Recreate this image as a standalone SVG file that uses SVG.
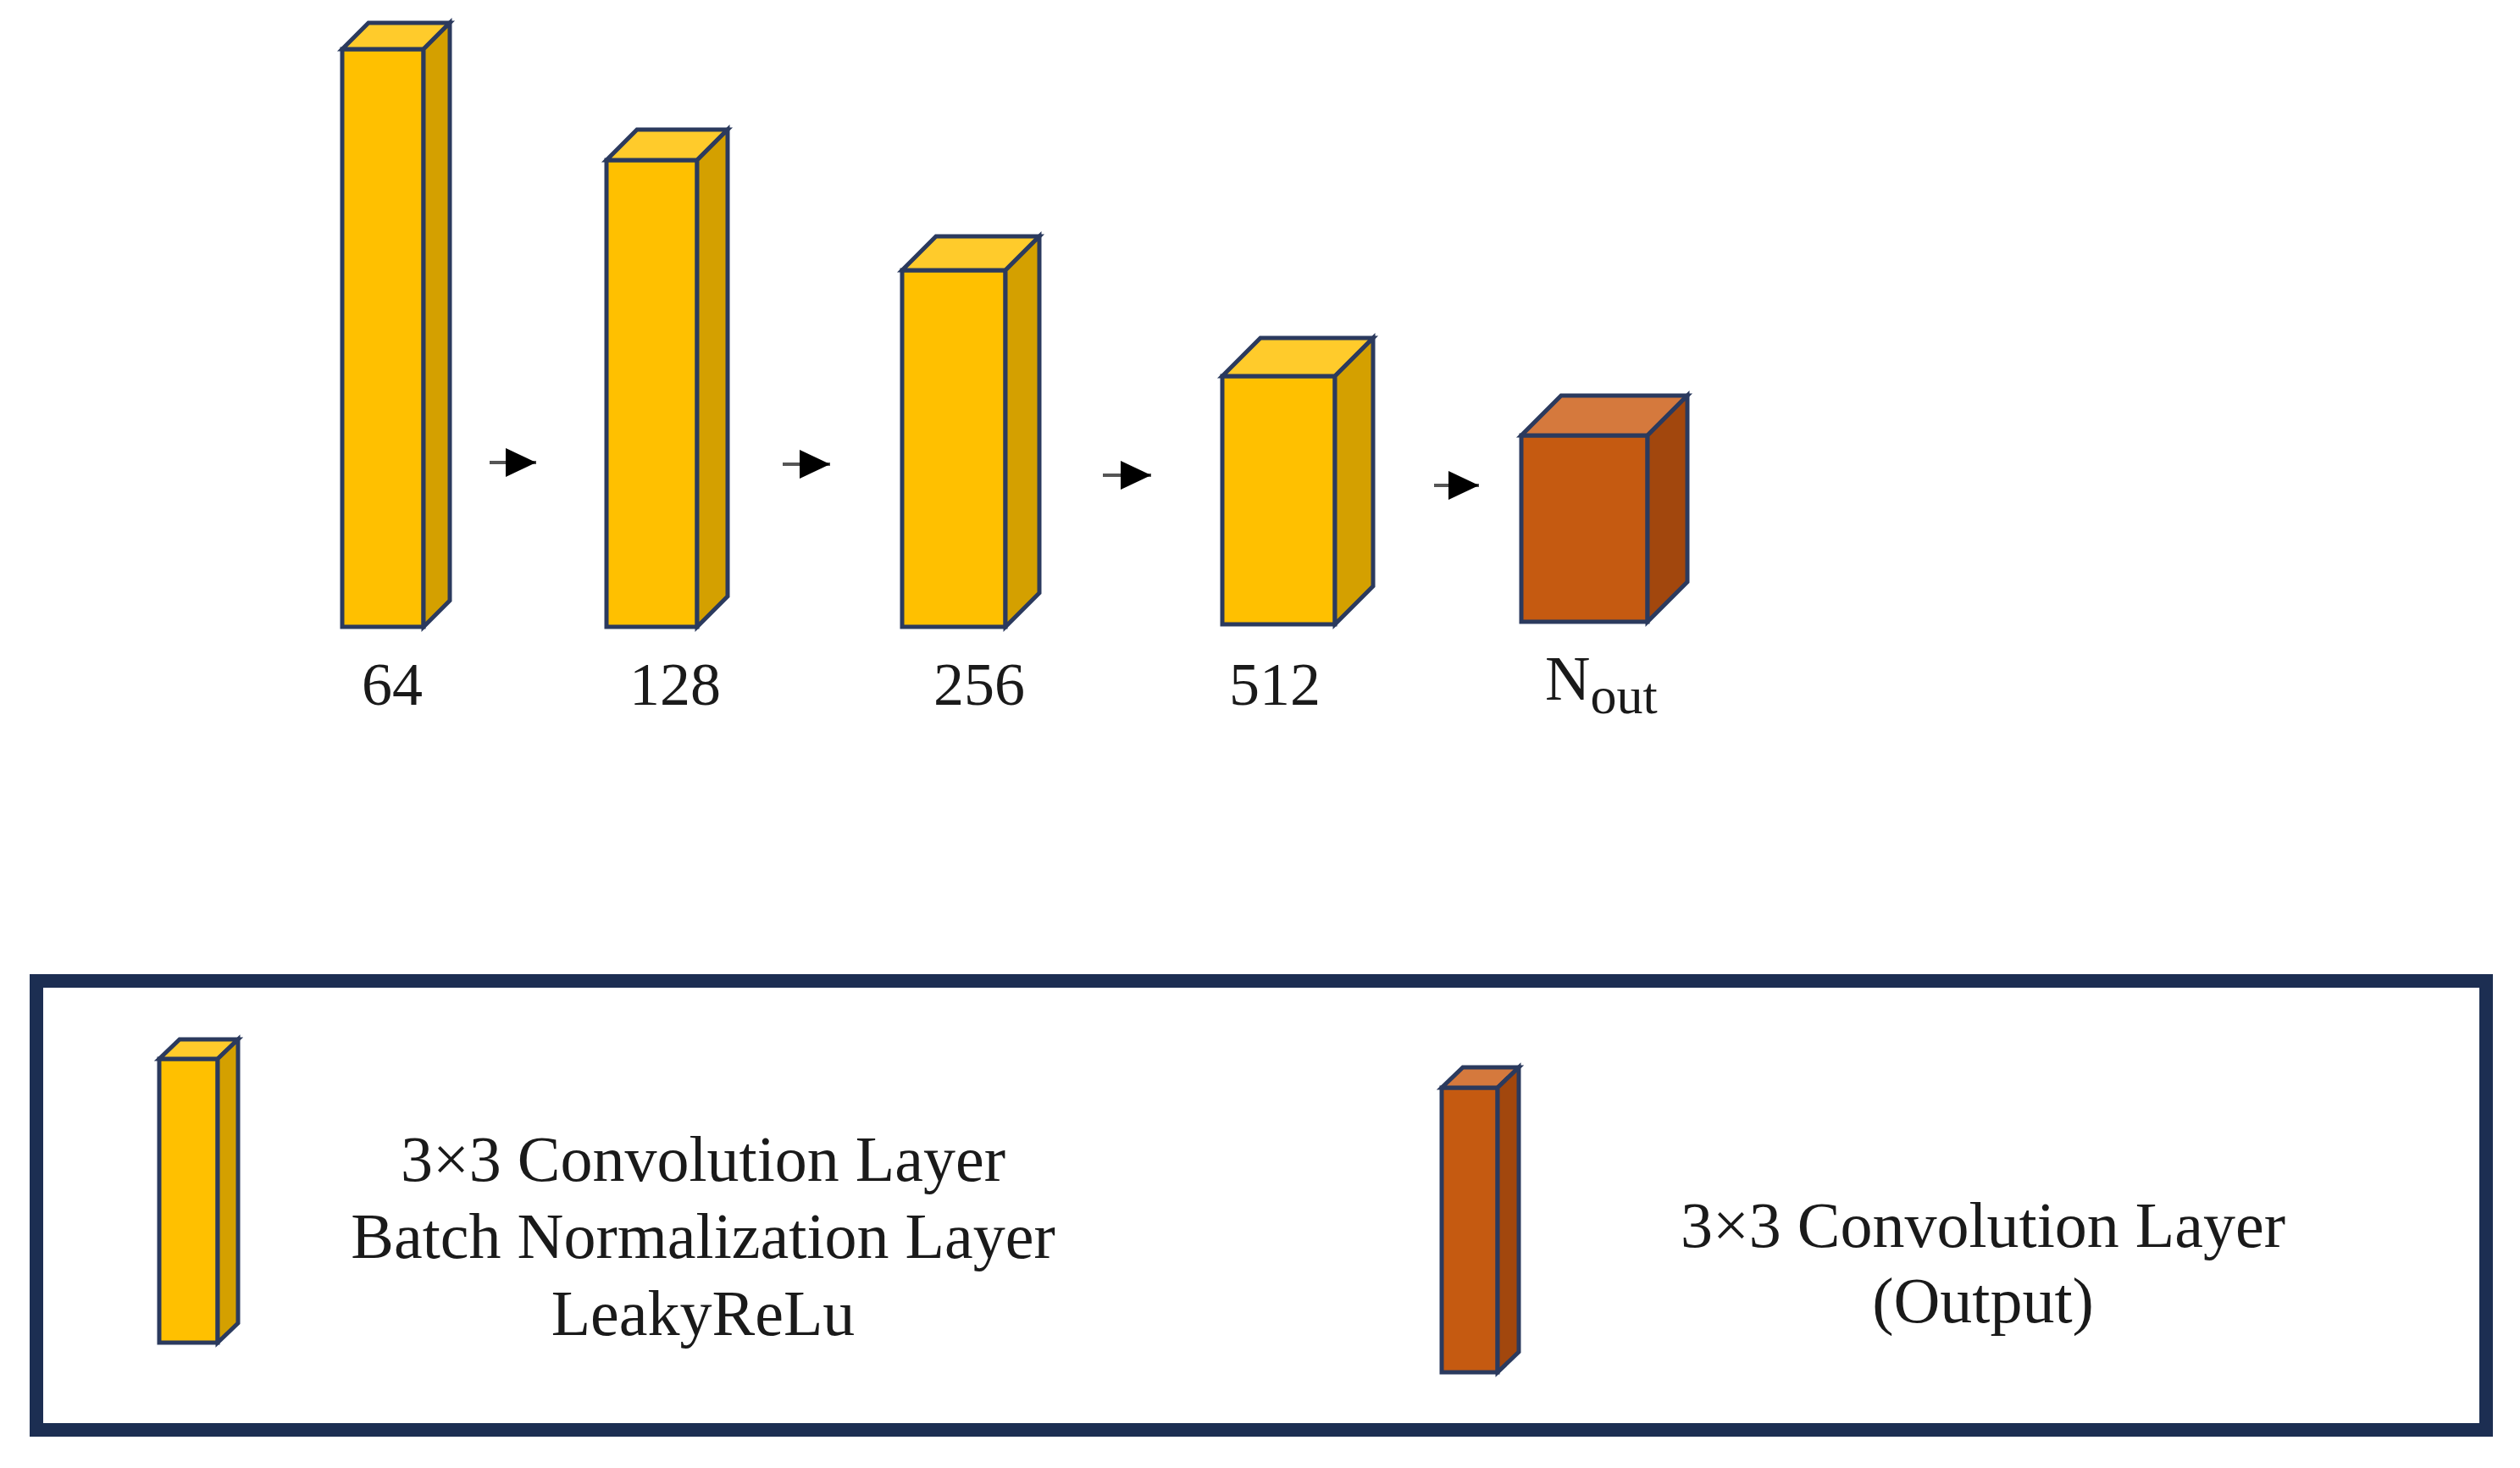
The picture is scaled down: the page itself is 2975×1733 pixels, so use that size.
<svg xmlns="http://www.w3.org/2000/svg" width="2975" height="1733" viewBox="0 0 2975 1733">
<style>
.yf{fill:#FFC000}.yt{fill:#FFCB2B}.ys{fill:#D4A000}
.of{fill:#C55A11}.ot{fill:#D5793D}.os{fill:#A2470D}
.edge{stroke:#2B3A5E;stroke-width:5;stroke-linejoin:miter}
.lbl{font-family:"Liberation Serif","Times New Roman",serif;fill:#1a1a1a}
.conn{stroke:#555;stroke-width:4;fill:none}
</style>
<defs>
<marker id="ah" markerUnits="userSpaceOnUse" viewBox="0 0 36 34" markerWidth="36" markerHeight="34" refX="36" refY="17" orient="auto">
<path d="M0,0 L36,17 L0,34 Z" fill="#000"/>
</marker>
</defs>
<rect x="0" y="0" width="2975" height="1733" fill="#fff"/>

<g id="layer64">
<rect class="yf edge" x="404" y="58" width="96" height="682"/>
<polygon class="yt edge" points="404,58 435,27 531,27 500,58"/>
<polygon class="ys edge" points="500,58 531,27 531,709 500,740"/>
<text class="lbl" x="463" y="832" font-size="72" text-anchor="middle">64</text>
</g>
<g id="layer128">
<rect class="yf edge" x="716" y="189" width="107" height="551"/>
<polygon class="yt edge" points="716,189 752,153 859,153 823,189"/>
<polygon class="ys edge" points="823,189 859,153 859,704 823,740"/>
<text class="lbl" x="797" y="832" font-size="72" text-anchor="middle">128</text>
</g>
<g id="layer256">
<rect class="yf edge" x="1065" y="319" width="122" height="421"/>
<polygon class="yt edge" points="1065,319 1105,279 1227,279 1187,319"/>
<polygon class="ys edge" points="1187,319 1227,279 1227,700 1187,740"/>
<text class="lbl" x="1156" y="832" font-size="72" text-anchor="middle">256</text>
</g>
<g id="layer512">
<rect class="yf edge" x="1443" y="444" width="133" height="293"/>
<polygon class="yt edge" points="1443,444 1488,399 1621,399 1576,444"/>
<polygon class="ys edge" points="1576,444 1621,399 1621,692 1576,737"/>
<text class="lbl" x="1505" y="832" font-size="72" text-anchor="middle">512</text>
</g>
<g id="layerOut">
<rect class="of edge" x="1796" y="514" width="149" height="220"/>
<polygon class="ot edge" points="1796,514 1843,467 1992,467 1945,514"/>
<polygon class="os edge" points="1945,514 1992,467 1992,687 1945,734"/>
<text class="lbl" x="1824" y="826" font-size="74">N<tspan font-size="62" dy="16">out</tspan></text>
</g>

<g id="connectors">
<line class="conn" x1="578" y1="546" x2="633" y2="546" marker-end="url(#ah)"/>
<line class="conn" x1="924" y1="548" x2="980" y2="548" marker-end="url(#ah)"/>
<line class="conn" x1="1302" y1="561" x2="1359" y2="561" marker-end="url(#ah)"/>
<line class="conn" x1="1693" y1="573" x2="1746" y2="573" marker-end="url(#ah)"/>
</g>

<g id="legend">
<rect x="43" y="1158" width="2892" height="530" fill="none" stroke="#1C2E52" stroke-width="16"/>
<g id="legendConv">
<rect class="yf edge" x="188" y="1250" width="69" height="335"/>
<polygon class="yt edge" points="188,1250 212,1227 281,1227 257,1250"/>
<polygon class="ys edge" points="257,1250 281,1227 281,1562 257,1585"/>
<text class="lbl" font-size="76" text-anchor="middle"><tspan x="830" y="1394">3×3 Convolution Layer</tspan><tspan x="830" y="1485">Batch Normalization Layer</tspan><tspan x="830" y="1576">LeakyReLu</tspan></text>
</g>
<g id="legendOut">
<rect class="of edge" x="1702" y="1284" width="66" height="336"/>
<polygon class="ot edge" points="1702,1284 1727,1260 1793,1260 1768,1284"/>
<polygon class="os edge" points="1768,1284 1793,1260 1793,1596 1768,1620"/>
<text class="lbl" font-size="76" text-anchor="middle"><tspan x="2341" y="1472">3×3 Convolution Layer</tspan><tspan x="2341" y="1561">(Output)</tspan></text>
</g>
</g>
</svg>
